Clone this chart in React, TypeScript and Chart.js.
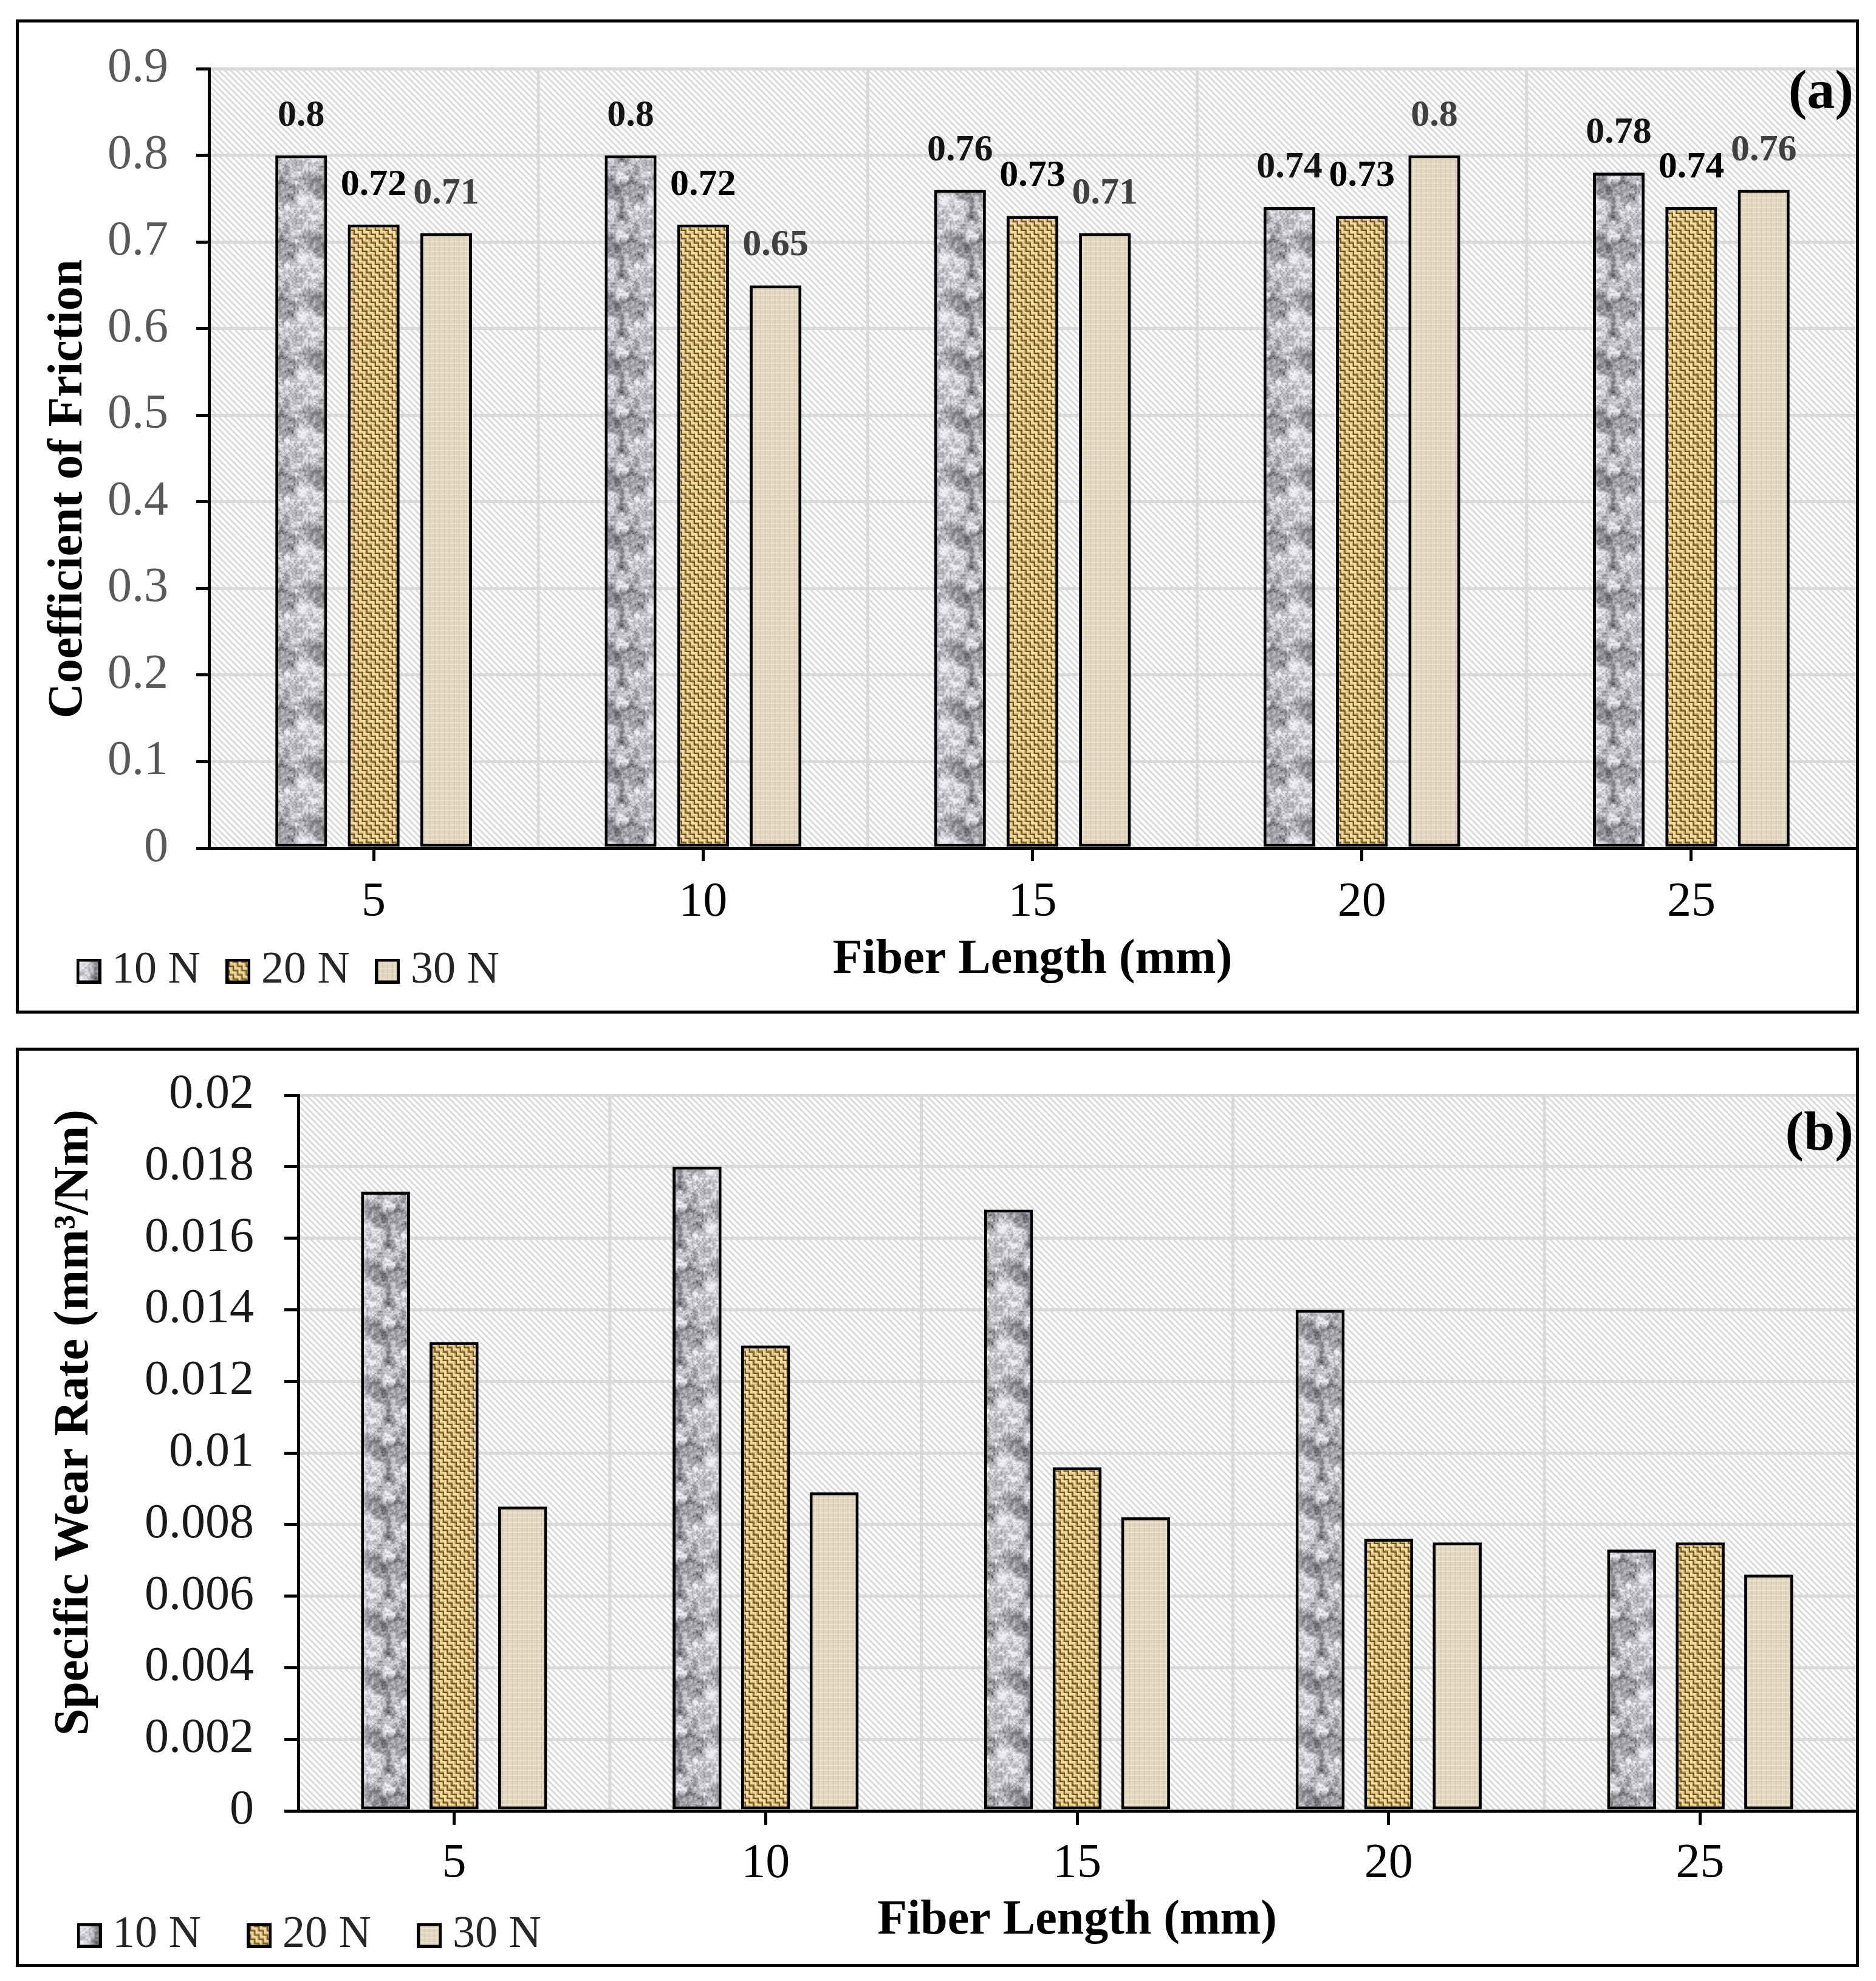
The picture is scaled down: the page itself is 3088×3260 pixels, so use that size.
import React, { useEffect, useRef } from "react";
import { Chart, registerables } from "chart.js";

Chart.register(...registerables);

const FONT = "'Liberation Serif', 'Times New Roman', Times, serif";

// ---------------- data ----------------
const categories = ["5", "10", "15", "20", "25"];
const loadLabels = ["10 N", "20 N", "30 N"];

const cof10N = [0.8, 0.8, 0.76, 0.74, 0.78];
const cof20N = [0.72, 0.72, 0.73, 0.73, 0.74];
const cof30N = [0.71, 0.65, 0.71, 0.8, 0.76];

const wear10N = [0.0173, 0.018, 0.0168, 0.014, 0.0073];
const wear20N = [0.0131, 0.013, 0.0096, 0.0076, 0.0075];
const wear30N = [0.0085, 0.0089, 0.0082, 0.0075, 0.0066];

const cofAxis = { min: 0, max: 0.9, step: 0.1 };
const wearAxis = { min: 0, max: 0.02, step: 0.002 };

// ---------------- textures (styling only, deterministic) ----------------
function hash2(x: number, y: number, seed: number) {
  let h = Math.imul(x | 0, 374761393) ^ Math.imul(y | 0, 668265263) ^ Math.imul(seed | 0, 982451653);
  h = Math.imul(h ^ (h >>> 13), 1274126177);
  h ^= h >>> 16;
  return (h >>> 0) / 4294967296;
}
function vnoise(x: number, y: number, cell: number, period: number, seed: number) {
  const gx = x / cell, gy = y / cell;
  const x0 = Math.floor(gx), y0 = Math.floor(gy);
  const fx = gx - x0, fy = gy - y0;
  const sx = fx * fx * (3 - 2 * fx), sy = fy * fy * (3 - 2 * fy);
  const m = (a: number) => ((a % period) + period) % period;
  const v00 = hash2(m(x0), m(y0), seed);
  const v10 = hash2(m(x0 + 1), m(y0), seed);
  const v01 = hash2(m(x0), m(y0 + 1), seed);
  const v11 = hash2(m(x0 + 1), m(y0 + 1), seed);
  const a = v00 + (v10 - v00) * sx;
  const b = v01 + (v11 - v01) * sx;
  return a + (b - a) * sy;
}
function makeTile(w: number, h: number, fn: (x: number, y: number) => [number, number, number]) {
  const c = document.createElement("canvas");
  c.width = w;
  c.height = h;
  const ctx = c.getContext("2d")!;
  const img = ctx.createImageData(w, h);
  for (let y = 0; y < h; y++) {
    for (let x = 0; x < w; x++) {
      const [r, g, b] = fn(x, y);
      const i = (y * w + x) * 4;
      img.data[i] = Math.max(0, Math.min(255, r));
      img.data[i + 1] = Math.max(0, Math.min(255, g));
      img.data[i + 2] = Math.max(0, Math.min(255, b));
      img.data[i + 3] = 255;
    }
  }
  ctx.putImageData(img, 0, 0);
  return c;
}
function graniteTile() {
  return makeTile(96, 96, (x, y) => {
    const c = vnoise(x, y, 16, 6, 11);
    const m = vnoise(x, y, 8, 12, 23);
    const f = vnoise(x, y, 3, 32, 37);
    let v = 0.4 * c + 0.3 * m + 0.3 * f;
    v = Math.max(0, Math.min(1, (v - 0.5) * 1.8 + 0.58));
    let g = 105 + v * 135;
    if (hash2(x >> 1, y >> 1, 51) > 0.95) g -= 35;
    return [g - 4, g - 2, g + 3];
  });
}
function burlapTile() {
  const light: [number, number, number] = [240, 219, 160];
  const mid: [number, number, number] = [204, 170, 106];
  const dark: [number, number, number] = [120, 86, 38];
  return makeTile(28, 28, (x, y) => {
    const ci = Math.floor(x / 7), cj = Math.floor(y / 7);
    const t = (ci + cj) % 2 === 0 ? y % 7 : x % 7;
    const base = t <= 2 ? light : t <= 4 ? mid : dark;
    const n = (hash2(x, y, 71) - 0.5) * 18;
    return [base[0] + n, base[1] + n, base[2] + n * 0.7];
  });
}
function canvasTile() {
  return makeTile(16, 16, (x, y) => {
    let c: [number, number, number] = [227, 215, 192];
    if (y % 8 === 0) c = [240, 233, 218];
    else if (x % 8 === 4) c = [208, 195, 168];
    const n = (hash2(x, y, 97) - 0.5) * 8;
    return [c[0] + n, c[1] + n, c[2] + n];
  });
}
function hatchTile() {
  const c = document.createElement("canvas");
  c.width = 10;
  c.height = 10;
  const ctx = c.getContext("2d")!;
  ctx.fillStyle = "#ffffff";
  ctx.fillRect(0, 0, 10, 10);
  ctx.strokeStyle = "#d9d9d9";
  ctx.lineWidth = 3;
  ctx.beginPath();
  ctx.moveTo(-1, -1);
  ctx.lineTo(11, 11);
  ctx.moveTo(9, -1);
  ctx.lineTo(11, 1);
  ctx.moveTo(-1, 9);
  ctx.lineTo(1, 11);
  ctx.stroke();
  return c;
}
function legendSwatch(tile: HTMLCanvasElement) {
  const c = document.createElement("canvas");
  c.width = 41;
  c.height = 41;
  const ctx = c.getContext("2d")!;
  ctx.fillStyle = "#000";
  ctx.fillRect(0, 0, 41, 41);
  ctx.fillStyle = ctx.createPattern(tile, "repeat")!;
  ctx.fillRect(5, 5, 31, 31);
  return c;
}

// ---------------- panel spec ----------------
type Spec = {
  w: number;
  h: number;
  series: number[][];
  axis: { min: number; max: number; step: number };
  yTitle: string;
  tag: string;
  tagY: number;
  showValues: boolean;
  pad: { left: number; top: number; right: number; bottom: number };
  yWidth: number;
  yTitlePadTop: number;
  yTickPad: number;
  yTickLen: number;
  yTickColor: string;
  xHeight: number;
  xTitlePadBottom: number;
  xTickPad: number;
  xTickLen: number;
  legendPad: number;
};

const valueColors = ["#141414", "#000000", "#404040"];

function Panel({ spec }: { spec: Spec }) {
  const ref = useRef<HTMLCanvasElement | null>(null);
  useEffect(() => {
    const canvas = ref.current!;
    const ctx0 = canvas.getContext("2d")!;
    const tiles = [graniteTile(), burlapTile(), canvasTile()];
    const fills = tiles.map((t) => ctx0.createPattern(t, "repeat")!);
    const swatches = tiles.map((t) => legendSwatch(t));
    const hatch = ctx0.createPattern(hatchTile(), "repeat")!;

    const decor = {
      id: "decor",
      beforeDraw(chart: any) {
        const { ctx, chartArea: a } = chart;
        ctx.save();
        ctx.fillStyle = hatch;
        ctx.fillRect(a.left, a.top, a.right - a.left, a.bottom - a.top);
        ctx.restore();
      },
      beforeDatasetsDraw(chart: any) {
        const { ctx, chartArea: a } = chart;
        const xs = chart.scales.x;
        ctx.save();
        ctx.strokeStyle = "#d9d9d9";
        ctx.lineWidth = 5;
        for (let i = 0; i < categories.length - 1; i++) {
          const px = (xs.getPixelForValue(i) + xs.getPixelForValue(i + 1)) / 2;
          ctx.beginPath();
          ctx.moveTo(px, a.top);
          ctx.lineTo(px, a.bottom - 3);
          ctx.stroke();
        }
        ctx.restore();
      },
      afterDatasetsDraw(chart: any) {
        const { ctx } = chart;
        ctx.save();
        if (spec.showValues) {
          ctx.font = `bold 62px ${FONT}`;
          ctx.textAlign = "center";
          ctx.textBaseline = "middle";
          chart.data.datasets.forEach((ds: any, di: number) => {
            const meta = chart.getDatasetMeta(di);
            meta.data.forEach((el: any, i: number) => {
              ctx.fillStyle = valueColors[di];
              ctx.fillText(String(ds.data[i]), el.x, el.y - 65);
            });
          });
        }
        ctx.font = `bold 92px ${FONT}`;
        ctx.fillStyle = "#000";
        ctx.textAlign = "right";
        ctx.textBaseline = "middle";
        ctx.fillText(spec.tag, chart.chartArea.right - 4, spec.tagY);
        ctx.restore();
      },
    };

    const chart = new Chart(canvas, {
      type: "bar",
      data: {
        labels: categories,
        datasets: spec.series.map((d, i) => ({
          label: loadLabels[i],
          data: d,
          backgroundColor: fills[i],
          borderColor: "#000",
          borderWidth: 5,
          borderSkipped: false,
          categoryPercentage: 0.66,
          barPercentage: 0.715,
        })),
      },
      options: {
        responsive: false,
        animation: false,
        devicePixelRatio: 1,
        layout: { padding: spec.pad },
        plugins: {
          tooltip: { enabled: false },
          legend: {
            position: "bottom",
            align: "start",
            labels: {
              usePointStyle: true,
              pointStyleWidth: 2,
              boxHeight: 36,
              padding: spec.legendPad,
              color: "#262626",
              font: { family: FONT, size: 74 },
              generateLabels: (ch: any) =>
                (Chart.defaults.plugins.legend.labels as any)
                  .generateLabels(ch)
                  .map((it: any, i: number) => ({ ...it, pointStyle: swatches[i] })),
            },
          },
        },
        scales: {
          x: {
            offset: true,
            grid: {
              offset: false,
              drawOnChartArea: false,
              drawTicks: true,
              tickLength: spec.xTickLen,
              tickWidth: 5,
              tickColor: "#000",
            },
            border: { display: true, color: "#000", width: 5 },
            ticks: {
              color: "#000",
              mirror: true,
              padding: spec.xTickPad,
              maxRotation: 0,
              font: { family: FONT, size: 80 },
            },
            title: {
              display: true,
              text: "Fiber Length (mm)",
              color: "#000",
              font: { family: FONT, size: 80, weight: "bold" },
              padding: { top: 0, bottom: spec.xTitlePadBottom },
            },
            afterFit: (s: any) => {
              s.height = spec.xHeight;
            },
          },
          y: {
            min: spec.axis.min,
            max: spec.axis.max,
            grid: {
              color: "#d9d9d9",
              lineWidth: 5,
              drawTicks: true,
              tickLength: spec.yTickLen,
              tickWidth: 5,
              tickColor: "#000",
            },
            border: { display: true, color: "#000", width: 5 },
            ticks: {
              stepSize: spec.axis.step,
              color: spec.yTickColor,
              padding: spec.yTickPad,
              font: { family: FONT, size: 80, lineHeight: 0.5 },
              callback: (v: any) => String(+Number(v).toFixed(3)),
            },
            title: {
              display: true,
              text: spec.yTitle,
              color: "#000",
              font: { family: FONT, size: 80, weight: "bold" },
              padding: { top: spec.yTitlePadTop, bottom: 0 },
            },
            afterFit: (s: any) => {
              s.width = spec.yWidth;
            },
          },
        },
      } as any,
      plugins: [decor],
    });
    return () => chart.destroy();
  }, [spec]);
  return <canvas ref={ref} width={spec.w} height={spec.h} style={{ display: "block", width: spec.w, height: spec.h }} />;
}

const specA: Spec = {
  w: 3024,
  h: 1626,
  series: [cof10N, cof20N, cof30N],
  axis: cofAxis,
  yTitle: "Coefficient of Friction     ",
  tag: "(a)",
  tagY: 117,
  showValues: true,
  pad: { left: 53, top: 76, right: 0, bottom: 18 },
  yWidth: 260,
  yTitlePadTop: -19,
  yTickPad: 46,
  yTickLen: 21,
  yTickColor: "#595959",
  xHeight: 104,
  xTitlePadBottom: -128,
  xTickPad: -138,
  xTickLen: 21,
  legendPad: 61,
};

const specB: Spec = {
  w: 3024,
  h: 1503,
  series: [wear10N, wear20N, wear30N],
  axis: wearAxis,
  yTitle: "     Specific Wear Rate (mm³/Nm)",
  tag: "(b)",
  tagY: 139,
  showValues: false,
  pad: { left: 20, top: 73, right: 0, bottom: 0 },
  yWidth: 440,
  yTitlePadTop: 24,
  yTickPad: 50,
  yTickLen: 23,
  yTickColor: "#1a1a1a",
  xHeight: 73,
  xTitlePadBottom: -156,
  xTickPad: -136,
  xTickLen: 23,
  legendPad: 95,
};

export default function App() {
  const box: React.CSSProperties = {
    position: "absolute",
    left: 26,
    width: 3034,
    border: "5px solid #000",
    boxSizing: "border-box",
    background: "#fff",
  };
  return (
    <div style={{ position: "absolute", left: 0, top: 0, width: 3088, height: 3260, background: "#fff" }}>
      <div style={{ ...box, top: 32, height: 1636 }}>
        <Panel spec={specA} />
      </div>
      <div style={{ ...box, top: 1724, height: 1513 }}>
        <Panel spec={specB} />
      </div>
    </div>
  );
}
